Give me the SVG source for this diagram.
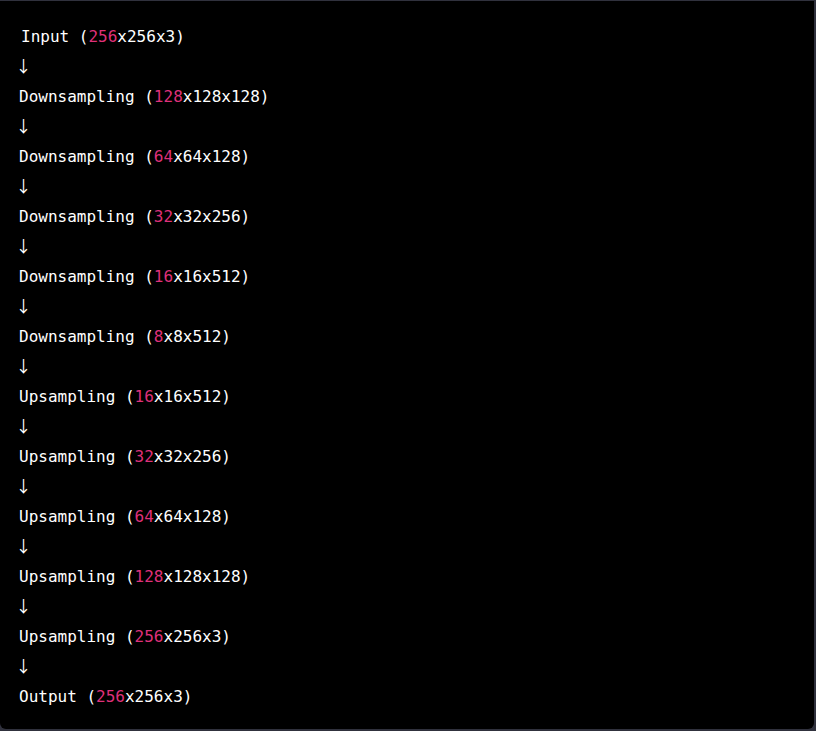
<svg xmlns="http://www.w3.org/2000/svg" width="816" height="731" viewBox="0 0 816 731">
<style>
text{font-family:"DejaVu Sans Mono","Liberation Mono",monospace;font-size:16px;fill:#ffffff;white-space:pre}
.n{fill:#df3079}
#connectors text{font-family:"Noto Sans CJK SC",sans-serif;font-size:16px;text-anchor:middle}
</style>
<rect x="0" y="0" width="816" height="731" fill="#30313d"/>
<path d="M0,1 H814 V723 A6,6 0 0 1 808,729 H6 A6,6 0 0 1 0,723 Z" fill="#000000"/>
<g id="input"><text x="21" y="42">Input (<tspan class="n">256</tspan>x256x3)</text></g>
<g id="down1"><text x="19" y="102">Downsampling (<tspan class="n">128</tspan>x128x128)</text></g>
<g id="down2"><text x="19" y="162">Downsampling (<tspan class="n">64</tspan>x64x128)</text></g>
<g id="down3"><text x="19" y="222">Downsampling (<tspan class="n">32</tspan>x32x256)</text></g>
<g id="down4"><text x="19" y="282">Downsampling (<tspan class="n">16</tspan>x16x512)</text></g>
<g id="down5"><text x="19" y="342">Downsampling (<tspan class="n">8</tspan>x8x512)</text></g>
<g id="up1"><text x="19" y="402">Upsampling (<tspan class="n">16</tspan>x16x512)</text></g>
<g id="up2"><text x="19" y="462">Upsampling (<tspan class="n">32</tspan>x32x256)</text></g>
<g id="up3"><text x="19" y="522">Upsampling (<tspan class="n">64</tspan>x64x128)</text></g>
<g id="up4"><text x="19" y="582">Upsampling (<tspan class="n">128</tspan>x128x128)</text></g>
<g id="up5"><text x="19" y="642">Upsampling (<tspan class="n">256</tspan>x256x3)</text></g>
<g id="output"><text x="19" y="702">Output (<tspan class="n">256</tspan>x256x3)</text></g>
<g id="connectors">
<text x="23.5" y="72">↓</text>
<text x="23.5" y="132">↓</text>
<text x="23.5" y="192">↓</text>
<text x="23.5" y="252">↓</text>
<text x="23.5" y="312">↓</text>
<text x="23.5" y="372">↓</text>
<text x="23.5" y="432">↓</text>
<text x="23.5" y="492">↓</text>
<text x="23.5" y="552">↓</text>
<text x="23.5" y="612">↓</text>
<text x="23.5" y="672">↓</text>
</g>
</svg>
